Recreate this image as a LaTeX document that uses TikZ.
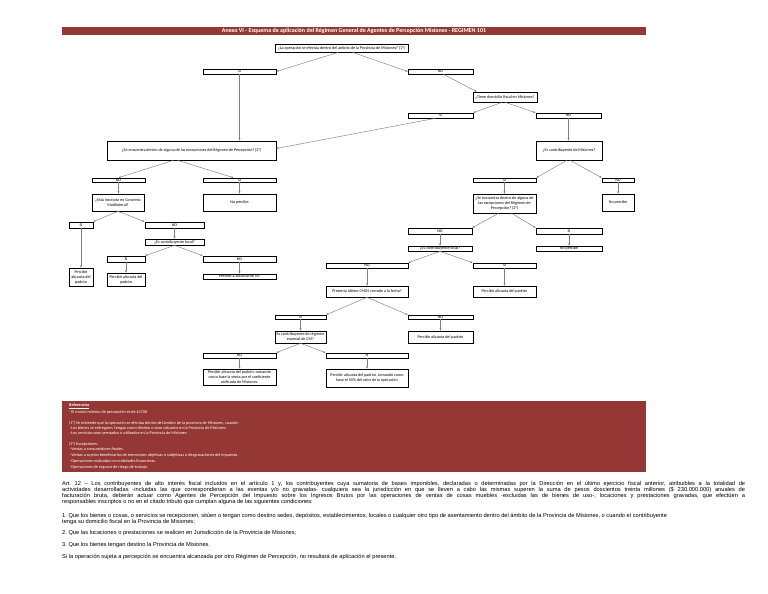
\documentclass[tikz,border=0pt]{standalone}
\usepackage{fontspec}
\setmainfont{Carlito}
\newfontfamily\artfont{Liberation Sans}
\usetikzlibrary{arrows.meta,calc}
\definecolor{xred}{HTML}{953735}
\definecolor{conc}{HTML}{808080}
\frenchspacing
\newcommand\dg{\fontsize{4.1}{5}\selectfont}
\newcommand\rf{\fontsize{4.2}{4.8}\selectfont}
\newcommand\ttl{\fontsize{6}{6.5}\selectfont\bfseries}
\newcommand\art{\artfont\fontsize{5.7}{6}\selectfont}
\newcommand\Bx[6]{\node[bx,minimum width={(#3-#2)*1pt},minimum height={(#5-#4)*1pt}] (#1) at ({(#2+#3)/2},{(#4+#5)/2}) {#6};}
\tikzset{
  bx/.style={draw=black,line width=0.6pt,fill=white,inner sep=0pt,align=center,font=\dg},
  con/.style={draw=conc,line width=0.45pt,-{Stealth[length=2.4pt,width=2pt]}},
  reftxt/.style={anchor=west,inner sep=0pt,text=white,font=\rf},
  arttxt/.style={anchor=west,inner sep=0pt,font=\art}
}
\begin{document}
\begin{tikzpicture}[x=1pt,y=-1pt]
\useasboundingbox (0,0) rectangle (768,594);
\fill[white] (0,0) rectangle (768,594);
% title
\node[fill=xred,minimum width=584pt,minimum height=8pt,inner sep=0pt,text=white,font=\ttl] (title) at (354,31) {Anexo VI - Esquema de aplicación del Régimen General de Agentes de Percepción Misiones - REGIMEN 101};
% boxes
\Bx{q1}{275}{408}{44}{52}{¿La operación se efectúa dentro del ámbito de la Provincia de Misiones? (1°)}
\Bx{si1}{203}{276}{69}{74}{SI}
\Bx{no1}{408}{473}{69}{74}{NO}
\Bx{q2}{473}{537}{92}{102}{¿Tiene domicilio fiscal en Misiones?}
\Bx{si2}{408}{473}{113}{118}{SI}
\Bx{no2}{536}{601}{113}{118}{NO}
\Bx{q3}{107}{276}{141}{160}{¿Se encuentra dentro de alguna de las excepciones del Régimen de Percepción? (2°)}
\Bx{q4}{536}{602}{141}{160}{¿Es contribuyente de Misiones?}
\Bx{no3}{92}{145}{178}{182}{NO}
\Bx{si3}{203}{276}{178}{182}{SI}
\Bx{si4}{473}{536}{178}{182}{SI}
\Bx{no4}{602}{634}{178}{182}{NO}
\Bx{q5}{92}{144}{194}{211}{¿Está inscripto en Convenio\\Multilateral?}
\Bx{np1}{203}{276}{194}{211}{No percibe}
\Bx{q6}{473}{536}{194}{213}{¿Se encuentra dentro de alguna de\\las excepciones del Régimen de\\Percepción? (2°)}
\Bx{np2}{602}{634}{194}{211}{No percibe}
\Bx{si5}{69}{93}{222}{228}{SI}
\Bx{no5}{145}{204}{222}{228}{NO}
\Bx{no6}{408}{472}{228}{234}{NO}
\Bx{si6}{536}{602}{228}{234}{SI}
\Bx{q7}{145}{204}{239}{245}{¿Es contribuyente local?}
\Bx{q8}{408}{472}{246}{251}{¿Es contribuyente local?}
\Bx{np3}{536}{602}{246}{251}{No percibe}
\Bx{si7}{107}{145}{256}{262}{SI}
\Bx{no7}{203}{276}{256}{262}{NO}
\Bx{no8}{326}{408}{263}{268}{NO}
\Bx{si8}{473}{536}{263}{268}{SI}
\Bx{p1}{69}{93}{268}{286}{Percibir\\alícuota del\\padrón}
\Bx{p2}{107}{145}{273}{286}{Percibir alícuota del\\padrón}
\Bx{p3}{203}{276}{274}{279}{Percibir a alícuota de 5\%}
\Bx{q9}{326}{408}{286}{297}{Presenta último CM05 cerrado a la fecha?}
\Bx{p4}{473}{536}{286}{297}{Percibir alícuota del padrón}
\Bx{si9}{275}{326}{315}{319}{SI}
\Bx{no9}{408}{473}{315}{319}{NO}
\Bx{q10}{275}{326}{331}{343}{Es contribuyente de régimen\\especial de CM?}
\Bx{p5}{408}{473}{331}{343}{Percibir alícuota del padrón}
\Bx{no10}{203}{276}{353}{358}{NO}
\Bx{si10}{326}{408}{353}{358}{SI}
\Bx{p6}{203}{276}{369}{385}{Percibir alícuota del padrón, tomando\\como base la venta por el coeficiente\\unificado de Misiones.}
\Bx{p7}{326}{408}{369}{387}{Percibir alícuota del padrón, tomando como\\base el 50\% del valor de la operación}
% connectors
\draw[con] ([xshift=-3pt]q1.south) -- (si1.east);
\draw[con] ([xshift=11pt]q1.south) -- (no1.west);
\draw[con] ([xshift=3pt]no1.south) -- ([xshift=4pt]q2.north west);
\draw[con] ([xshift=-3pt]q2.south) -- (si2.north east);
\draw[con] (q2.south) -- (no2.north west);
\draw[con] ([xshift=-5pt]si2.south) -- ([yshift=2pt]q3.east);
\draw[con] (si1.south) -- (si1.south |- q3.north);
\draw[con] (no2.south) -- (no2.south |- q4.north);
\draw[con] ([xshift=-18pt]q3.south) -- (no3.north);
\draw[con] ([xshift=-14pt]q3.south) -- ([xshift=-6pt]si3.north);
\draw[con] ([xshift=-2pt]q4.south) -- (si4.north east);
\draw[con] ([xshift=1pt]q4.south) -- (no4.north west);
\draw[con] (no3.south) -- (no3.south |- q5.north);
\draw[con] (si3.south) -- (np1.north);
\draw[con] (si4.south) -- (q6.north);
\draw[con] (no4.south) -- (np2.north);
\draw[con] (q5.south) -- (si5.north east);
\draw[con] (q5.south) -- (no5.north west);
\draw[con] ([xshift=-6pt]q6.south) -- (no6.north east);
\draw[con] ([xshift=7pt]q6.south) -- (si6.north west);
\draw[con] (si5.south) -- (p1.north);
\draw[con] (no5.south) -- (no5.south |- q7.north);
\draw[con] (no6.south) -- (q8.north);
\draw[con] (si6.south) -- (np3.north);
\draw[con] (q7.south) -- (si7.north east);
\draw[con] (q7.south) -- (no7.north west);
\draw[con] (q8.south) -- (no8.north east);
\draw[con] (q8.south) -- (si8.north west);
\draw[con] (si7.south) -- (p2.north);
\draw[con] (no7.south) -- (p3.north);
\draw[con] (no8.south) -- (q9.north);
\draw[con] (si8.south) -- (p4.north);
\draw[con] (q9.south) -- (si9.north east);
\draw[con] (q9.south) -- (no9.north west);
\draw[con] (si9.south) -- (q10.north);
\draw[con] (no9.south) -- (p5.north);
\draw[con] (q10.south) -- (no10.north east);
\draw[con] (q10.south) -- (si10.north west);
\draw[con] (no10.south) -- (p6.north);
\draw[con] (si10.south) -- (p7.north);
% references
\fill[xred] (62,401) rectangle (646,472);
\node[reftxt] (r0) at (69,406.5) {\underline{\textbf{Referencias}}};
\node[reftxt] (r1) at (69,412) {- El monto mínimo de percepción es de \$1700};
\node[reftxt] (r2) at (69,423) {(1°) Se entiende que la operación se efectúa dentro del ámbito de la provincia de Misiones, cuando:};
\node[reftxt] (r3) at (69,428.5) {\ -Los bienes se entreguen, tengan como destino o sean ubicados en la Provincia de Misiones.};
\node[reftxt] (r4) at (69,433.5) {\ -Los servicios sean prestados o utilizados en la Provincia de Misiones.};
\node[reftxt] (r5) at (69,444) {(2°) Excepciones:};
\node[reftxt] (r6) at (69,449.5) {\ -Ventas a consumidores finales.};
\node[reftxt] (r7) at (69,455.5) {\ -Ventas a sujetos beneficiarios de exenciones objetivas o subjetivas o desgravaciones del impuesto.};
\node[reftxt] (r8) at (69,461) {\ -Operaciones realizadas con entidades financieras.};
\node[reftxt] (r9) at (69,467) {\ -Operaciones de seguros de riesgo de trabajo.};
% article text
\node[arttxt] (a1) at (62,484) {\makebox[683pt][s]{Art. 12 – Los contribuyentes de alto interés fiscal incluidos en el artículo 1 y, los contribuyentes cuya sumatoria de bases imponibles, declaradas o determinadas por la Dirección en el último ejercicio fiscal anterior, atribuibles a la totalidad de}};
\node[arttxt] (a2) at (62,490) {\makebox[683pt][s]{actividades desarrolladas -incluidas las que correspondieran a las exentas y/o no gravadas- cualquiera sea la jurisdicción en que se lleven a cabo las mismas superen la suma de pesos doscientos treinta millones (\$ 230.000.000) anuales de}};
\node[arttxt] (a3) at (62,496) {\makebox[683pt][s]{facturación bruta, deberán actuar como Agentes de Percepción del Impuesto sobre los Ingresos Brutos por las operaciones de ventas de cosas muebles -excluidas las de bienes de uso-, locaciones y prestaciones gravadas, que efectúen a}};
\node[arttxt] (a4) at (62,502) {responsables inscriptos o no en el citado tributo que cumplan alguna de las siguientes condiciones:};
\node[arttxt] (b1) at (62,516) {1. Que los bienes o cosas, o servicios se recepcionen, sitúen o tengan como destino sedes, depósitos, establecimientos, locales o cualquier otro tipo de asentamiento dentro del ámbito de la Provincia de Misiones, o cuando el contribuyente};
\node[arttxt] (b2) at (62,522) {tenga su domicilio fiscal en la Provincia de Misiones;};
\node[arttxt] (b3) at (62,533) {2. Que las locaciones o prestaciones se realicen en Jurisdicción de la Provincia de Misiones;};
\node[arttxt] (b4) at (62,545) {3. Que los bienes tengan destino la Provincia de Misiones.};
\node[arttxt] (b5) at (62,557) {Si la operación sujeta a percepción se encuentra alcanzada por otro Régimen de Percepción, no resultará de aplicación el presente.};
\end{tikzpicture}
\end{document}
